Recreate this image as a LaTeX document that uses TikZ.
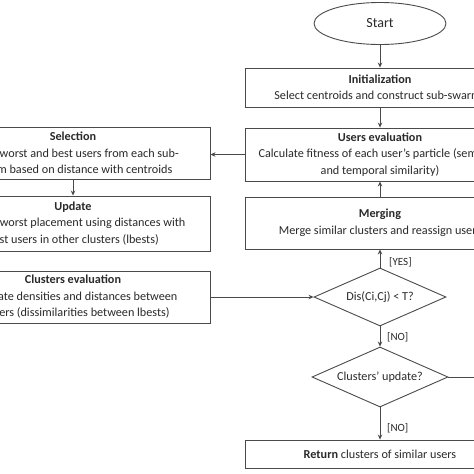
\documentclass[tikz,border=0pt]{standalone}
\usepackage{fontspec}
\setmainfont{Carlito}
\usetikzlibrary{shapes.geometric,arrows.meta}
\definecolor{linec}{HTML}{4A4A4A}
\definecolor{textc}{HTML}{2A2A2A}
\tikzset{
  box/.style={draw=linec, line width=0.9pt, fill=white, text=textc, align=center,
    inner sep=0pt, font=\fontsize{12.2}{16.5}\selectfont},
  dia/.style={draw=linec, line width=0.9pt, fill=white, text=textc, shape=diamond,
    inner sep=0pt, shape aspect=2.3, font=\fontsize{12.2}{16}\selectfont},
  oval/.style={draw=linec, line width=0.9pt, fill=white, text=textc, shape=ellipse,
    inner sep=0pt, font=\fontsize{14}{16}\selectfont},
  conn/.style={draw=linec, line width=0.9pt, -{Stealth[length=5pt,width=4.5pt]}},
  plain/.style={draw=linec, line width=0.9pt},
  lab/.style={text=textc, anchor=west, inner sep=0pt, font=\fontsize{11}{12}\selectfont}
}
\begin{document}
\begin{tikzpicture}[x=1pt,y=-1pt]
\useasboundingbox (0,0) rectangle (474,474);
\clip (0,0) rectangle (474,474);
\fill[white] (0,0) rectangle (474,474);

\node[oval, minimum width=132pt, minimum height=42pt] (start) at (380,23.5) {Start};
\node[box, minimum width=270pt, minimum height=39pt] (init) at (380,87.5)
  {\textbf{Initialization}\\Select centroids and construct sub-swarms};
\node[box, minimum width=270pt, minimum height=53pt] (users) at (380,154.5)
  {\textbf{Users evaluation}\\Calculate fitness of each user’s particle (semantic\\and temporal similarity)};
\node[box, minimum width=270pt, minimum height=52pt] (merge) at (380,223)
  {\textbf{Merging}\\Merge similar clusters and reassign users};
\node[dia, minimum width=132pt, minimum height=58pt] (dis) at (380,297) {Dis(Ci,Cj) < T?};
\node[dia, minimum width=136pt, minimum height=60pt] (upd) at (380,377) {Clusters’ update?};
\node[box, minimum width=270pt, minimum height=28pt] (ret) at (380,454)
  {\textbf{Return} clusters of similar users};

\node[box, minimum width=274pt, minimum height=52pt] (sel) at (73,153)
  {\textbf{Selection}\\Select worst and best users from each sub-\\swarm based on distance with centroids};
\node[box, minimum width=274pt, minimum height=55pt] (upd2) at (73,223.5)
  {\textbf{Update}\\Update worst placement using distances with\\best users in other clusters (lbests)};
\node[box, minimum width=274pt, minimum height=52pt] (ceval) at (73,297)
  {\textbf{Clusters evaluation}\\Calculate densities and distances between\\clusters (dissimilarities between lbests)};

\coordinate (out) at (480,377);

\draw[conn] (start) -- (init);
\draw[conn] (init) -- (users);
\draw[conn] (users.west) -- (users.west -| sel.east);
\draw[conn] (sel) -- (upd2);
\draw[conn] (ceval.east) -- (dis.west);
\draw[conn] (dis.north) -- (merge.south);
\draw[conn] (merge.north) -- (users.south);
\draw[conn] (dis.south) -- (upd.north);
\draw[conn] (upd.south) -- (ret.north);
\draw[plain] (upd.east) -- (out);

\node[lab] (yes) at (389,262) {[YES]};
\node[lab] (no1) at (387,337) {[NO]};
\node[lab] (no2) at (387,428) {[NO]};
\end{tikzpicture}
\end{document}
